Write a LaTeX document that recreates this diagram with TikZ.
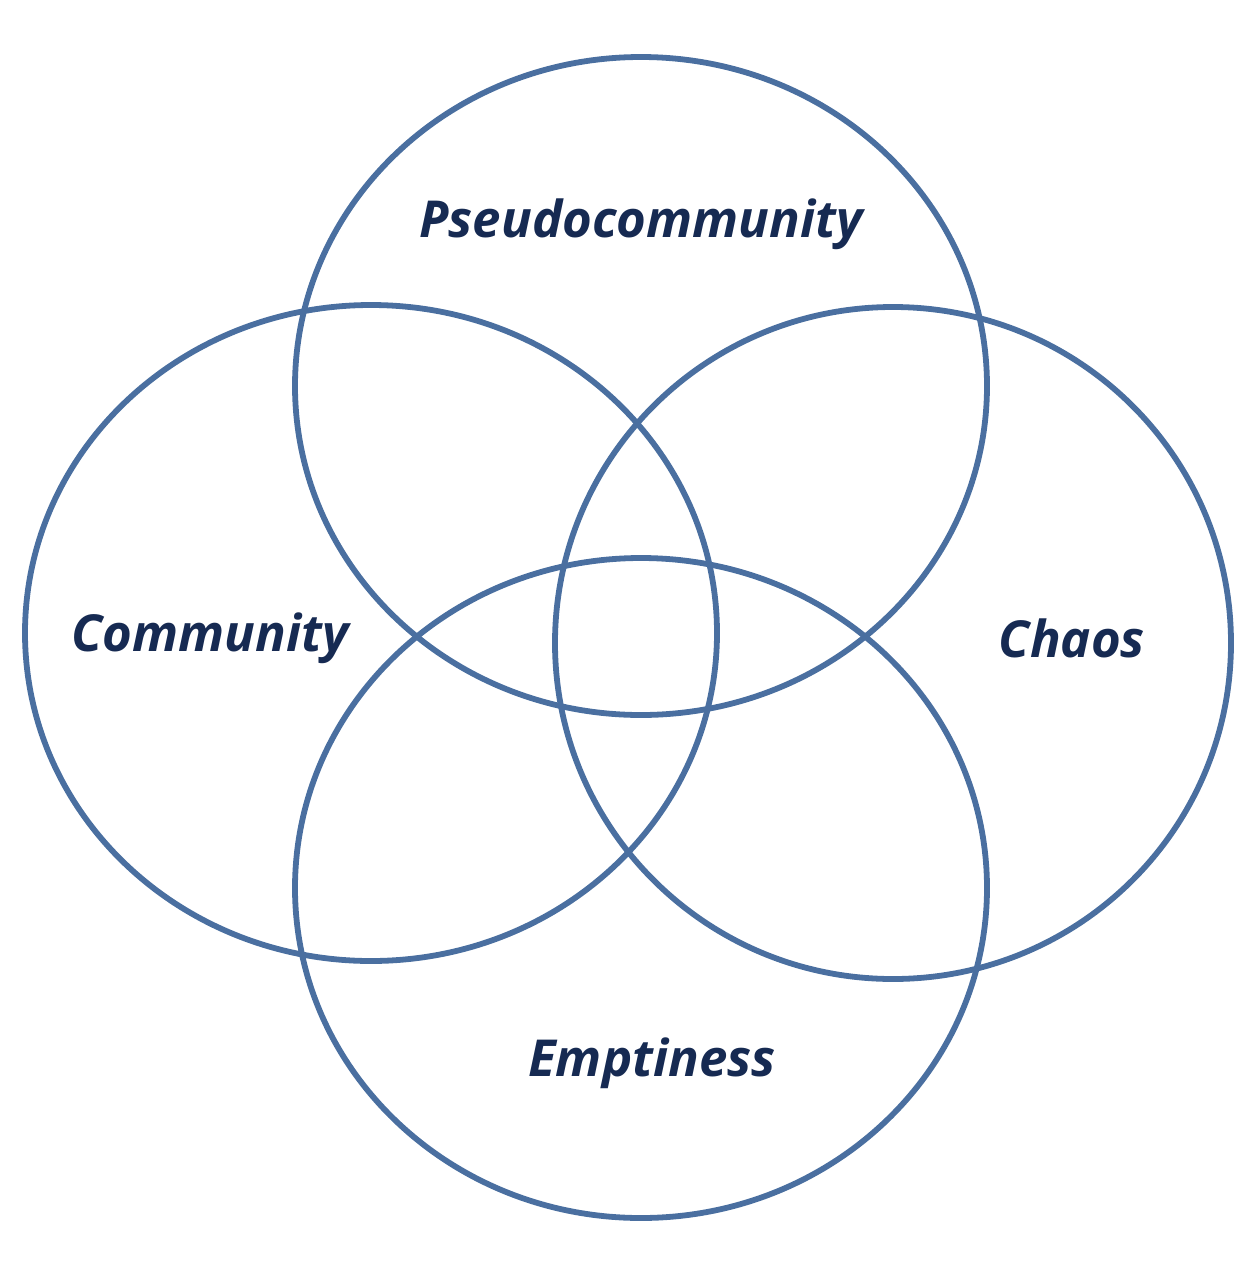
\documentclass[tikz,border=0pt]{standalone}
\usepackage{fontspec}
\setmainfont{Open Sans}
\definecolor{ring}{RGB}{74,111,160}
\definecolor{ink}{RGB}{22,42,82}
\tikzset{
  stage/.style={ring,line width=3.3pt},
  lbl/.style={ink,font=\fontsize{29}{34}\selectfont\bfseries\itshape}
}
\begin{document}
\begin{tikzpicture}[x=0.02cm,y=-0.02cm]
    \useasboundingbox (0,0) rectangle (1260,1262);
    \draw[stage] (641,386) ellipse (346 and 329);
    \draw[stage] (371,633) ellipse (346 and 328);
    \draw[stage] (893,643) ellipse (338 and 336);
    \draw[stage] (641,888) ellipse (346 and 330);
    \node[lbl] (pseudo) at (641,224) {Pseudocommunity};
    \node[lbl] (comm) at (210,638) {Community};
    \node[lbl] (chaos) at (1072,638) {Chaos};
    \node[lbl] (empty) at (652,1063) {Emptiness};
  \end{tikzpicture}
\end{document}
